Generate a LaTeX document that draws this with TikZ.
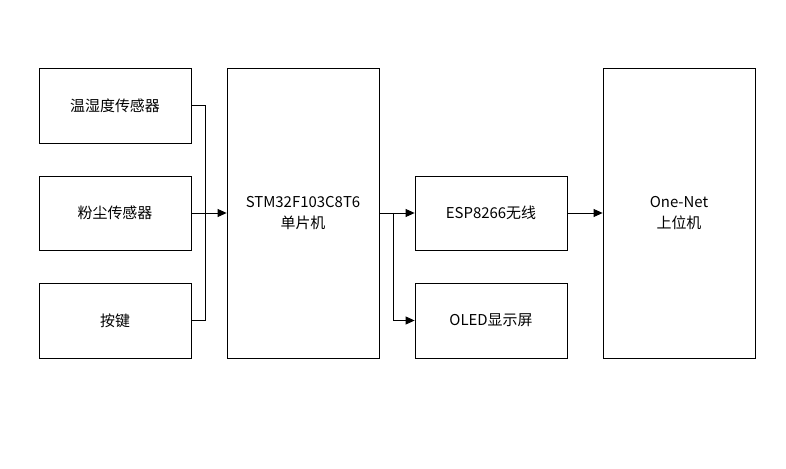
\documentclass[tikz,border=0pt]{standalone}
\usepackage{fontspec}
\setmainfont{Noto Sans CJK SC}
\usetikzlibrary{arrows.meta}
\begin{document}
\begin{tikzpicture}[x=1bp,y=-1bp,
  blk/.style={draw=black,line width=0.8bp,minimum width=152bp,inner sep=0pt,align=center,font=\fontsize{15}{20.5}\selectfont},
  arr/.style={line width=0.8bp,-{Triangle[length=9bp,width=8bp]}},
  ln/.style={line width=0.8bp}]
\useasboundingbox[fill=white] (0,0) rectangle (786,469);
\node[blk,minimum height=75bp] (s1) at (115,105.5) {温湿度传感器};
\node[blk,minimum height=74bp] (s2) at (115,213) {粉尘传感器};
\node[blk,minimum height=75bp] (s3) at (115,320.5) {按键};
\node[blk,minimum height=290bp] (mcu) at (303,213) {STM32F103C8T6\\单片机};
\node[blk,minimum height=74bp] (esp) at (491,213) {ESP8266无线};
\node[blk,minimum height=75bp] (oled) at (491,320.5) {OLED显示屏};
\node[blk,minimum height=290bp] (net) at (679,213) {One-Net\\上位机};
\coordinate (busx) at (205.5,0);
\draw[ln] (s1.east) -- (s1.east -| busx) -- (s3.east -| busx) -- (s3.east);
\draw[arr] (s2.east) -- (mcu.west |- s2.east);
\draw[arr] (mcu.east |- esp.west) -- (esp.west);
\coordinate (brx) at (393,0);
\draw[arr] (esp.west -| brx) |- (oled.west);
\draw[arr] (esp.east) -- (net.west |- esp.east);
\end{tikzpicture}
\end{document}
